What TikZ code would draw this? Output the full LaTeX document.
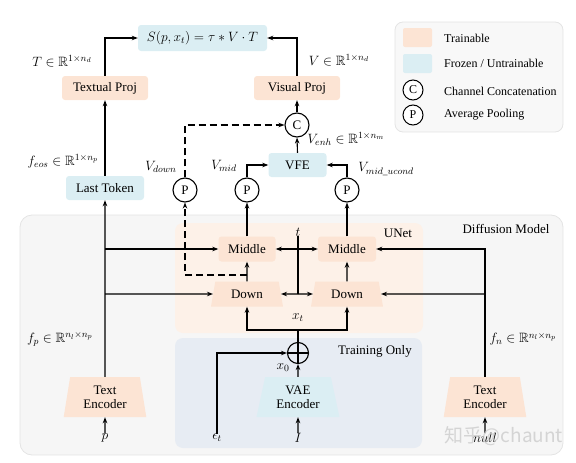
\RequirePackage{fix-cm}
\documentclass[tikz,border=0pt]{standalone}
\usepackage{amsmath,amssymb}
\usepackage{fontspec}
\setmainfont{Liberation Serif}
\newfontfamily\cjkfont{Noto Sans CJK SC}
\usetikzlibrary{shapes.geometric,arrows.meta}
\DeclareMathSizes{13}{13.5}{9.5}{7}
\definecolor{trainF}{RGB}{252,228,212}
\definecolor{frozF}{RGB}{219,238,243}
\definecolor{unetF}{RGB}{253,241,232}
\definecolor{trainOnlyF}{RGB}{231,236,243}
\definecolor{diffF}{RGB}{246,246,246}
\definecolor{legF}{RGB}{248,248,248}
\definecolor{legD}{RGB}{228,228,228}
\begin{document}
\begin{tikzpicture}[x=1pt,y=-1pt,
  font=\fontsize{13}{15}\selectfont,
  conn/.style={line width=1.1pt,-{Stealth[length=6pt,width=4.5pt]}},
  plain/.style={line width=1.1pt},
  dashconn/.style={line width=1.1pt,dash pattern=on 7pt off 4pt,-{Stealth[length=6pt,width=4.5pt]}},
  boxnode/.style={rounded corners=3pt,inner sep=0pt,minimum height=24pt},
  orangebox/.style={boxnode,fill=trainF},
  bluebox/.style={boxnode,fill=frozF},
  trap/.style={shape=trapezium,trapezium stretches=true,inner sep=0pt,align=center,font=\fontsize{13}{14}\selectfont},
  opcircle/.style={circle,draw,line width=1.1pt,fill=white,inner sep=0pt,minimum size=24pt},
  lbl/.style={inner sep=0pt},
  region/.style={rounded corners=8pt}
]
\useasboundingbox (0,0) rectangle (576,463);

% regions
\draw[rounded corners=12pt,fill=diffF,draw=legD,line width=0.8pt] (20,215) rectangle (563,455);
\fill[region,fill=unetF] (175,223) rectangle (423,333);
\fill[region,fill=trainOnlyF] (175,338) rectangle (422,448);
\node[lbl] (diffl) at (506,229) {Diffusion Model};
\node[lbl] (unetl) at (398,233) {UNet};
\node[lbl] (trainl) at (375,351) {Training Only};

% legend
\draw[rounded corners=8pt,fill=legF,draw=legD,line width=0.8pt] (395,22) rectangle (563,132);
\fill[rounded corners=2pt,fill=trainF] (403,28) rectangle (432,47);
\fill[rounded corners=2pt,fill=frozF] (403,54) rectangle (432,73);
\node[opcircle,minimum size=20pt,line width=1pt] (legc) at (413,90) {\fontsize{12}{12}\selectfont C};
\node[opcircle,minimum size=20pt,line width=1pt] (legp) at (413,115) {\fontsize{12}{12}\selectfont P};
\begin{scope}[every node/.style={lbl,anchor=west,font=\fontsize{12}{14}\selectfont}]
\node (lt1) at (444,38) {Trainable};
\node (lt2) at (444,63) {Frozen / Untrainable};
\node (lt3) at (444,91) {Channel Concatenation};
\node (lt4) at (444,115) {Average Pooling};
\end{scope}

% top nodes
\node[bluebox,minimum width=129pt,minimum height=26pt] (score) at (202.5,38) {$S(p,x_t)=\tau * V\cdot T$};
\node[orangebox,minimum width=86pt] (tproj) at (105,88) {Textual Proj};
\node[orangebox,minimum width=86pt] (vproj) at (297,88) {Visual Proj};
\node[opcircle] (concat) at (297,125) {C};
\node[bluebox,minimum width=58pt] (vfe) at (297.5,165) {VFE};
\node[bluebox,minimum width=78pt] (lasttok) at (105,188) {Last Token};
\node[opcircle] (pdown) at (185,190) {P};
\node[opcircle] (pmid) at (247,190) {P};
\node[opcircle] (pright) at (347,190) {P};

% UNet nodes
\node[orangebox,minimum width=57pt,minimum height=25pt] (midL) at (247,249) {Middle};
\node[orangebox,minimum width=58pt,minimum height=25pt] (midR) at (347,249) {Middle};
\node[trap,fill=trainF,minimum width=72pt,minimum height=25pt,trapezium left angle=76,trapezium right angle=76] (downL) at (247,294) {Down};
\node[trap,fill=trainF,minimum width=72pt,minimum height=25pt,trapezium left angle=76,trapezium right angle=76] (downR) at (347,294) {Down};

% lower nodes
\node[circle,draw,line width=1.1pt,inner sep=0pt,minimum size=21pt] (oplus) at (298,353) {};
\draw[line width=1.1pt] (oplus.north) -- (oplus.south) (oplus.west) -- (oplus.east);
\node[trap,fill=frozF,minimum width=83pt,minimum height=40pt,trapezium left angle=76,trapezium right angle=76] (vae) at (298,397) {VAE\\Encoder};
\node[trap,fill=trainF,minimum width=83pt,minimum height=40pt,trapezium left angle=80,trapezium right angle=80] (tencL) at (105,397) {Text\\Encoder};
\node[trap,fill=trainF,minimum width=83pt,minimum height=40pt,trapezium left angle=80,trapezium right angle=80] (tencR) at (485,397) {Text\\Encoder};

% input labels
\node[lbl] (pin) at (105,438) {$p$};
\node[lbl] (epsin) at (217,438) {$\epsilon_t$};
\node[lbl] (iin) at (298,438) {$I$};
\node[lbl] (nullin) at (485,438) {$null$};
\node[lbl] (tin) at (298,232) {$t$};
\node[lbl] (xtl) at (298,318) {$x_t$};
\node[lbl] (x0l) at (283,368) {$x_0$};

% math labels
\node[lbl] (Tl) at (62,61) {$T\in\mathbb{R}^{1\times n_d}$};
\node[lbl] (Vl) at (339,60) {$V\in\mathbb{R}^{1\times n_d}$};
\node[lbl] (feosl) at (63,161) {$f_{eos}\in\mathbb{R}^{1\times n_p}$};
\node[lbl] (vdownl) at (161,167) {$V_{down}$};
\node[lbl] (vmidl) at (224,166) {$V_{mid}$};
\node[lbl] (venhl) at (346,139) {$V_{enh}\in\mathbb{R}^{1\times n_m}$};
\node[lbl] (vmul) at (386,169) {$V_{mid\_ucond}$};
\node[lbl] (fpl) at (60,339) {$f_p\in\mathbb{R}^{n_l\times n_p}$};
\node[lbl] (fnl) at (523,339) {$f_n\in\mathbb{R}^{n_l\times n_p}$};

% coordinates
\coordinate (lm) at (105,249);
\coordinate (ld) at (105,294);
\coordinate (rd) at (485,294);
\coordinate (tm) at (298,249);
\coordinate (tb) at (298,294);
\coordinate (xj) at (298,330);
\coordinate (dtap) at (247,275);

% connectors top
\draw[conn] (tproj.north) |- (score.west);
\draw[conn] (vproj.north) |- (score.east);
\draw[conn] (concat.north) -- (vproj.south);
\draw[conn] (vfe.north) -- (concat.south);
\draw[conn] (lasttok.north) -- (tproj.south);
\draw[dashconn] (pdown.north) |- (concat.west);
\draw[conn] (pmid.north) |- (vfe.west);
\draw[conn] (pright.north) |- (vfe.east);
\draw[conn] (midL.north) -- (pmid.south);
\draw[conn] (midR.north) -- (pright.south);
\draw[conn] (downL.north) -- (midL.south);
\draw[conn] (downR.north) -- (midR.south);
\draw[dashconn] (dtap) -| (pdown.south);

% t
\draw[plain] (tin.south) -- (tb);
\draw[conn] (tm) -- (midL.east);
\draw[conn] (tm) -- (midR.west);
\draw[conn] (tb) -- (downL.east);
\draw[conn] (tb) -- (downR.west);

% x_t
\draw[plain] (oplus.north) -- (xj);
\draw[conn] (xj) -| (downL.south);
\draw[conn] (xj) -| (downR.south);
\draw[conn] (vae.north) -- (oplus.south);
\draw[conn] (iin.north) -- (vae.south);
\draw[conn] (epsin.north) |- (oplus.west);

% text encoders
\draw[conn] (tencL.north) -- (lasttok.south);
\draw[conn] (lm) -- (midL.west);
\draw[conn] (ld) -- (downL.west);
\draw[conn] (pin.north) -- (tencL.south);
\draw[conn] (tencR.north) |- (midR.east);
\draw[conn] (rd) -- (downR.east);
\draw[conn] (nullin.north) -- (tencR.south);

% watermark
\node[lbl,text=gray!40,opacity=0.8] (wm) at (504,436) {\cjkfont\fontsize{19}{19}\selectfont 知乎@chaunt};
\end{tikzpicture}
\end{document}
